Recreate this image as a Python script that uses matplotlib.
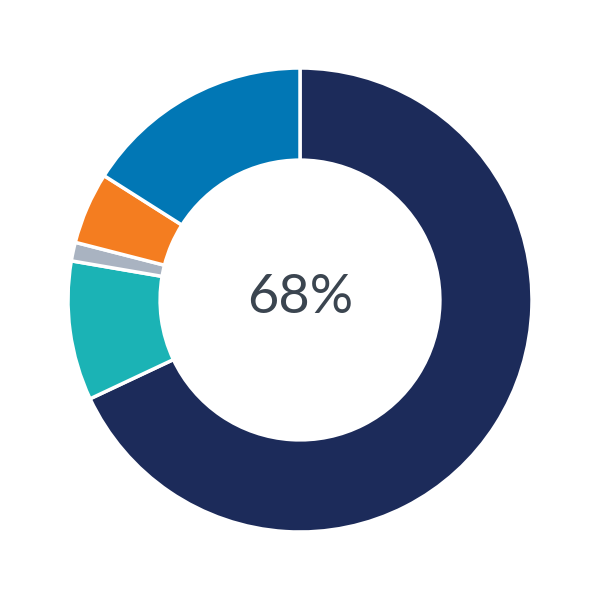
import matplotlib
matplotlib.use("Agg")
import matplotlib.pyplot as plt

# segments, clockwise from 12 o'clock
labels = ["Main", "Teal", "Gray", "Orange", "Blue"]
values = [68, 9.7, 1.3, 5, 16]
colors = ["#1c2b5a", "#1bb3b5", "#a9b3c1", "#f47d20", "#0177b5"]
center_text = "68%"

fig = plt.figure(figsize=(6, 6), dpi=100)
ax = fig.add_axes([0, 0, 1, 1])

ax.pie(values, colors=colors, startangle=90, counterclock=False,
       radius=1.0,
       wedgeprops=dict(width=0.397, edgecolor="white", linewidth=2.5))

ax.text(0, 0.01, center_text, ha="center", va="center",
        fontsize=39, color="#3b4550", family=["Lato", "DejaVu Sans"],
        fontweight="normal")

lim = 300 / 232
ax.set_xlim(-lim, lim)
ax.set_ylim(-lim, lim)
ax.set_aspect("equal")
ax.axis("off")

fig.savefig("out.png", dpi=100, facecolor="white")
